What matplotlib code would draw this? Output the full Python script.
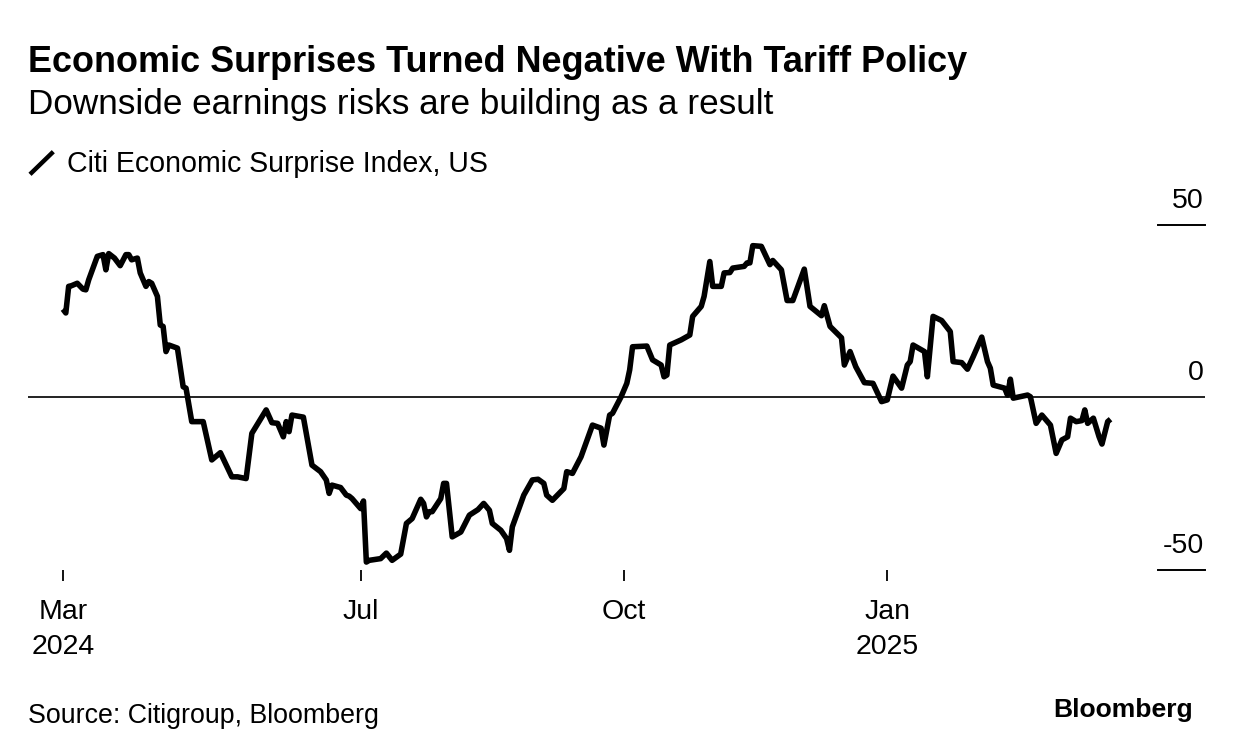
import matplotlib
matplotlib.use("Agg")
import matplotlib.pyplot as plt
import matplotlib.dates as mdates
import pandas as pd
from matplotlib.lines import Line2D

# Citi Economic Surprise Index, US
dates = [
    "2024-03-19", "2024-03-20", "2024-03-21", "2024-03-22", "2024-03-24", "2024-03-26", "2024-03-27",
    "2024-03-28", "2024-03-31",
    "2024-04-02", "2024-04-03", "2024-04-04", "2024-04-06", "2024-04-08", "2024-04-10", "2024-04-11",
    "2024-04-12", "2024-04-14", "2024-04-15", "2024-04-17", "2024-04-18", "2024-04-19", "2024-04-21",
    "2024-04-22", "2024-04-23", "2024-04-24", "2024-04-25", "2024-04-28", "2024-04-30",
    "2024-05-01", "2024-05-03", "2024-05-07", "2024-05-10", "2024-05-13", "2024-05-17", "2024-05-19",
    "2024-05-22", "2024-05-24", "2024-05-29", "2024-05-31",
    "2024-06-02", "2024-06-04", "2024-06-05", "2024-06-06", "2024-06-07", "2024-06-11", "2024-06-14",
    "2024-06-17", "2024-06-19", "2024-06-20", "2024-06-21", "2024-06-24", "2024-06-26", "2024-06-27",
    "2024-06-28",
    "2024-07-01", "2024-07-02", "2024-07-03", "2024-07-04", "2024-07-08", "2024-07-10", "2024-07-12",
    "2024-07-15", "2024-07-17", "2024-07-19", "2024-07-22", "2024-07-23", "2024-07-24", "2024-07-25",
    "2024-07-26", "2024-07-29", "2024-07-30", "2024-07-31",
    "2024-08-02", "2024-08-05", "2024-08-08", "2024-08-11", "2024-08-13", "2024-08-15", "2024-08-16",
    "2024-08-19", "2024-08-21", "2024-08-22", "2024-08-23", "2024-08-27", "2024-08-30",
    "2024-09-01", "2024-09-03", "2024-09-04", "2024-09-06", "2024-09-10", "2024-09-11", "2024-09-13",
    "2024-09-16", "2024-09-20", "2024-09-23", "2024-09-24", "2024-09-26", "2024-09-27", "2024-09-30",
    "2024-10-02", "2024-10-03", "2024-10-04", "2024-10-09", "2024-10-11", "2024-10-14", "2024-10-15",
    "2024-10-16", "2024-10-17", "2024-10-21", "2024-10-24", "2024-10-25", "2024-10-28", "2024-10-29",
    "2024-10-31",
    "2024-11-01", "2024-11-04", "2024-11-05", "2024-11-07", "2024-11-08", "2024-11-12", "2024-11-13",
    "2024-11-14", "2024-11-15", "2024-11-18", "2024-11-21", "2024-11-22", "2024-11-25", "2024-11-27",
    "2024-11-29",
    "2024-12-03", "2024-12-05", "2024-12-09", "2024-12-10", "2024-12-12", "2024-12-16", "2024-12-17",
    "2024-12-19", "2024-12-21", "2024-12-24", "2024-12-27", "2024-12-30",
    "2025-01-01", "2025-01-03", "2025-01-06", "2025-01-08", "2025-01-09", "2025-01-10", "2025-01-13",
    "2025-01-14", "2025-01-15", "2025-01-17", "2025-01-20", "2025-01-23", "2025-01-24", "2025-01-27",
    "2025-01-29", "2025-01-31",
    "2025-02-03", "2025-02-05", "2025-02-06", "2025-02-07", "2025-02-11", "2025-02-12", "2025-02-13",
    "2025-02-14", "2025-02-19", "2025-02-20", "2025-02-22", "2025-02-24", "2025-02-27",
    "2025-03-01", "2025-03-03", "2025-03-05", "2025-03-06", "2025-03-08", "2025-03-10", "2025-03-11",
    "2025-03-12", "2025-03-14", "2025-03-16", "2025-03-17", "2025-03-19", "2025-03-20",
]
values = [
    25.6, 24.5, 32.2, 32.4, 33.1, 31.4, 31.2, 34.1, 40.9,
    41.4, 37.0, 41.7, 40.4, 38.2, 41.4, 41.4, 39.9, 40.4, 36.1, 32.2, 33.6, 33.1, 29.3, 21.0, 20.6,
    13.3, 15.2, 14.3, 3.1,
    2.7, -7.0, -7.0, -18.1, -16.0, -23.0, -23.0, -23.5, -10.4, -3.6, -7.3,
    -7.5, -11.4, -7.0, -9.9, -5.1, -5.7, -19.6, -21.5, -23.9, -27.8, -25.4, -26.1, -28.3, -28.6, -29.3,
    -32.2, -30.0, -47.7, -47.2, -46.7, -45.1, -47.2, -45.4, -36.5, -35.1, -29.5, -30.7, -34.6, -33.1,
    -33.1, -29.3, -24.9, -24.9,
    -40.4, -39.0, -34.1, -32.5, -30.7, -32.7, -36.5, -38.5, -40.9, -44.3, -37.5, -28.3, -23.9,
    -23.7, -24.9, -28.3, -29.8, -26.4, -21.5, -22.0, -17.2, -8.0, -8.9, -13.8, -5.1, -4.6, 0.2,
    4.1, 8.0, 14.7, 14.9, 10.9, 9.4, 6.0, 6.5, 15.2, 16.7, 18.1, 23.5, 26.4, 29.3, 39.4,
    32.2, 32.2, 36.1, 36.2, 37.5, 38.0, 39.0, 39.0, 44.0, 43.8, 38.5, 39.7, 37.0, 28.1, 28.1,
    37.2, 26.4, 23.7, 26.6, 20.6, 17.3, 9.4, 13.3, 8.9, 4.3, 4.1, -1.2,
    -0.7, 6.2, 2.7, 9.4, 10.4, 15.2, 13.8, 13.3, 6.0, 23.5, 22.3, 19.1, 10.4, 10.1, 8.2, 11.8,
    17.5, 10.4, 8.5, 3.6, 2.7, 0.7, 5.3, -0.2, 0.7, 0.2, -7.5, -5.1, -8.0,
    -16.2, -12.3, -11.4, -6.0, -7.0, -6.7, -3.6, -7.5, -6.0, -11.4, -13.5, -7.0, -6.3,
]

tick_dates = ["2024-03-19", "2024-07-01", "2024-10-01", "2025-01-01"]
tick_months = ["Mar", "Jul", "Oct", "Jan"]
tick_years = ["2024", "", "", "2025"]
y_ticks = [50, 0, -50]

W, H = 1233, 754
plt.rcParams['font.family'] = ['Liberation Sans', 'DejaVu Sans']
fig = plt.figure(figsize=(W / 100, H / 100), dpi=100)


def fy(y):
    return 1 - y / H


def fit(t, width):
    # scale font so the text spans the given width in pixels
    r = fig.canvas.get_renderer()
    w = t.get_window_extent(renderer=r).width
    t.set_fontsize(t.get_fontsize() * width / w)


# plot area
ax = fig.add_axes([28 / W, (H - 570) / H, 1177 / W, 389.9 / H])
x = pd.to_datetime(dates)
ax.plot(x, values, color='black', lw=4, solid_joinstyle='round', solid_capstyle='butt', zorder=3)
ax.set_xlim(pd.Timestamp("2024-03-06 19:00"), pd.Timestamp("2025-04-22"))
ax.set_ylim(-50, 63)
for s in ax.spines.values():
    s.set_visible(False)
ax.set_yticks([])
ax.axhline(0, color='#222222', lw=1.4, zorder=2)

ticks = pd.to_datetime(tick_dates)
ax.set_xticks(ticks)
ax.set_xticklabels([])
ax.tick_params(axis='x', length=8.2, width=1.3, direction='out', color='black')

for d, m, yr in zip(ticks, tick_months, tick_years):
    xn = mdates.date2num(d)
    ax.annotate(m, xy=(xn, 0), xycoords=('data', 'axes fraction'), xytext=(0, -49.3),
                textcoords='offset pixels', ha='center', va='baseline', fontsize=20.5)
    if yr:
        ax.annotate(yr, xy=(xn, 0), xycoords=('data', 'axes fraction'), xytext=(0, -84),
                    textcoords='offset pixels', ha='center', va='baseline', fontsize=20.5)

# right-hand value labels with short rules
for v in y_ticks:
    ax.annotate(str(v), xy=(1, v), xycoords=('axes fraction', 'data'), xytext=(-1, 17),
                textcoords='offset pixels', ha='right', va='baseline', fontsize=20.5)
    if v != 0:
        ax.plot([0.9601, 1], [v, v], transform=ax.get_yaxis_transform(), color='black',
                lw=1.4, clip_on=False)

# header
title = fig.text(28 / W, fy(71.7), "Economic Surprises Turned Negative With Tariff Policy",
                 fontsize=24, fontweight='bold', va='baseline')
sub = fig.text(28 / W, fy(114), "Downside earnings risks are building as a result",
               fontsize=22, va='baseline')
leg = fig.text(66.7 / W, fy(171.7), "Citi Economic Surprise Index, US", fontsize=18, va='baseline')
fig.add_artist(Line2D([30 / W, 53.3 / W], [fy(174.3), fy(151.7)], color='black', lw=3.2,
                      solid_capstyle='butt'))

# footer
src = fig.text(28.3 / W, fy(723.3), "Source: Citigroup, Bloomberg", fontsize=18, va='baseline')
logo = fig.text(1193.3 / W, fy(716.7), "Bloomberg", fontsize=18, fontweight='bold',
                ha='right', va='baseline')

fit(title, 942.7)
fit(sub, 740)
fit(leg, 421.6)
fit(src, 351)
fit(logo, 140)

fig.savefig("out.png", dpi=100)
